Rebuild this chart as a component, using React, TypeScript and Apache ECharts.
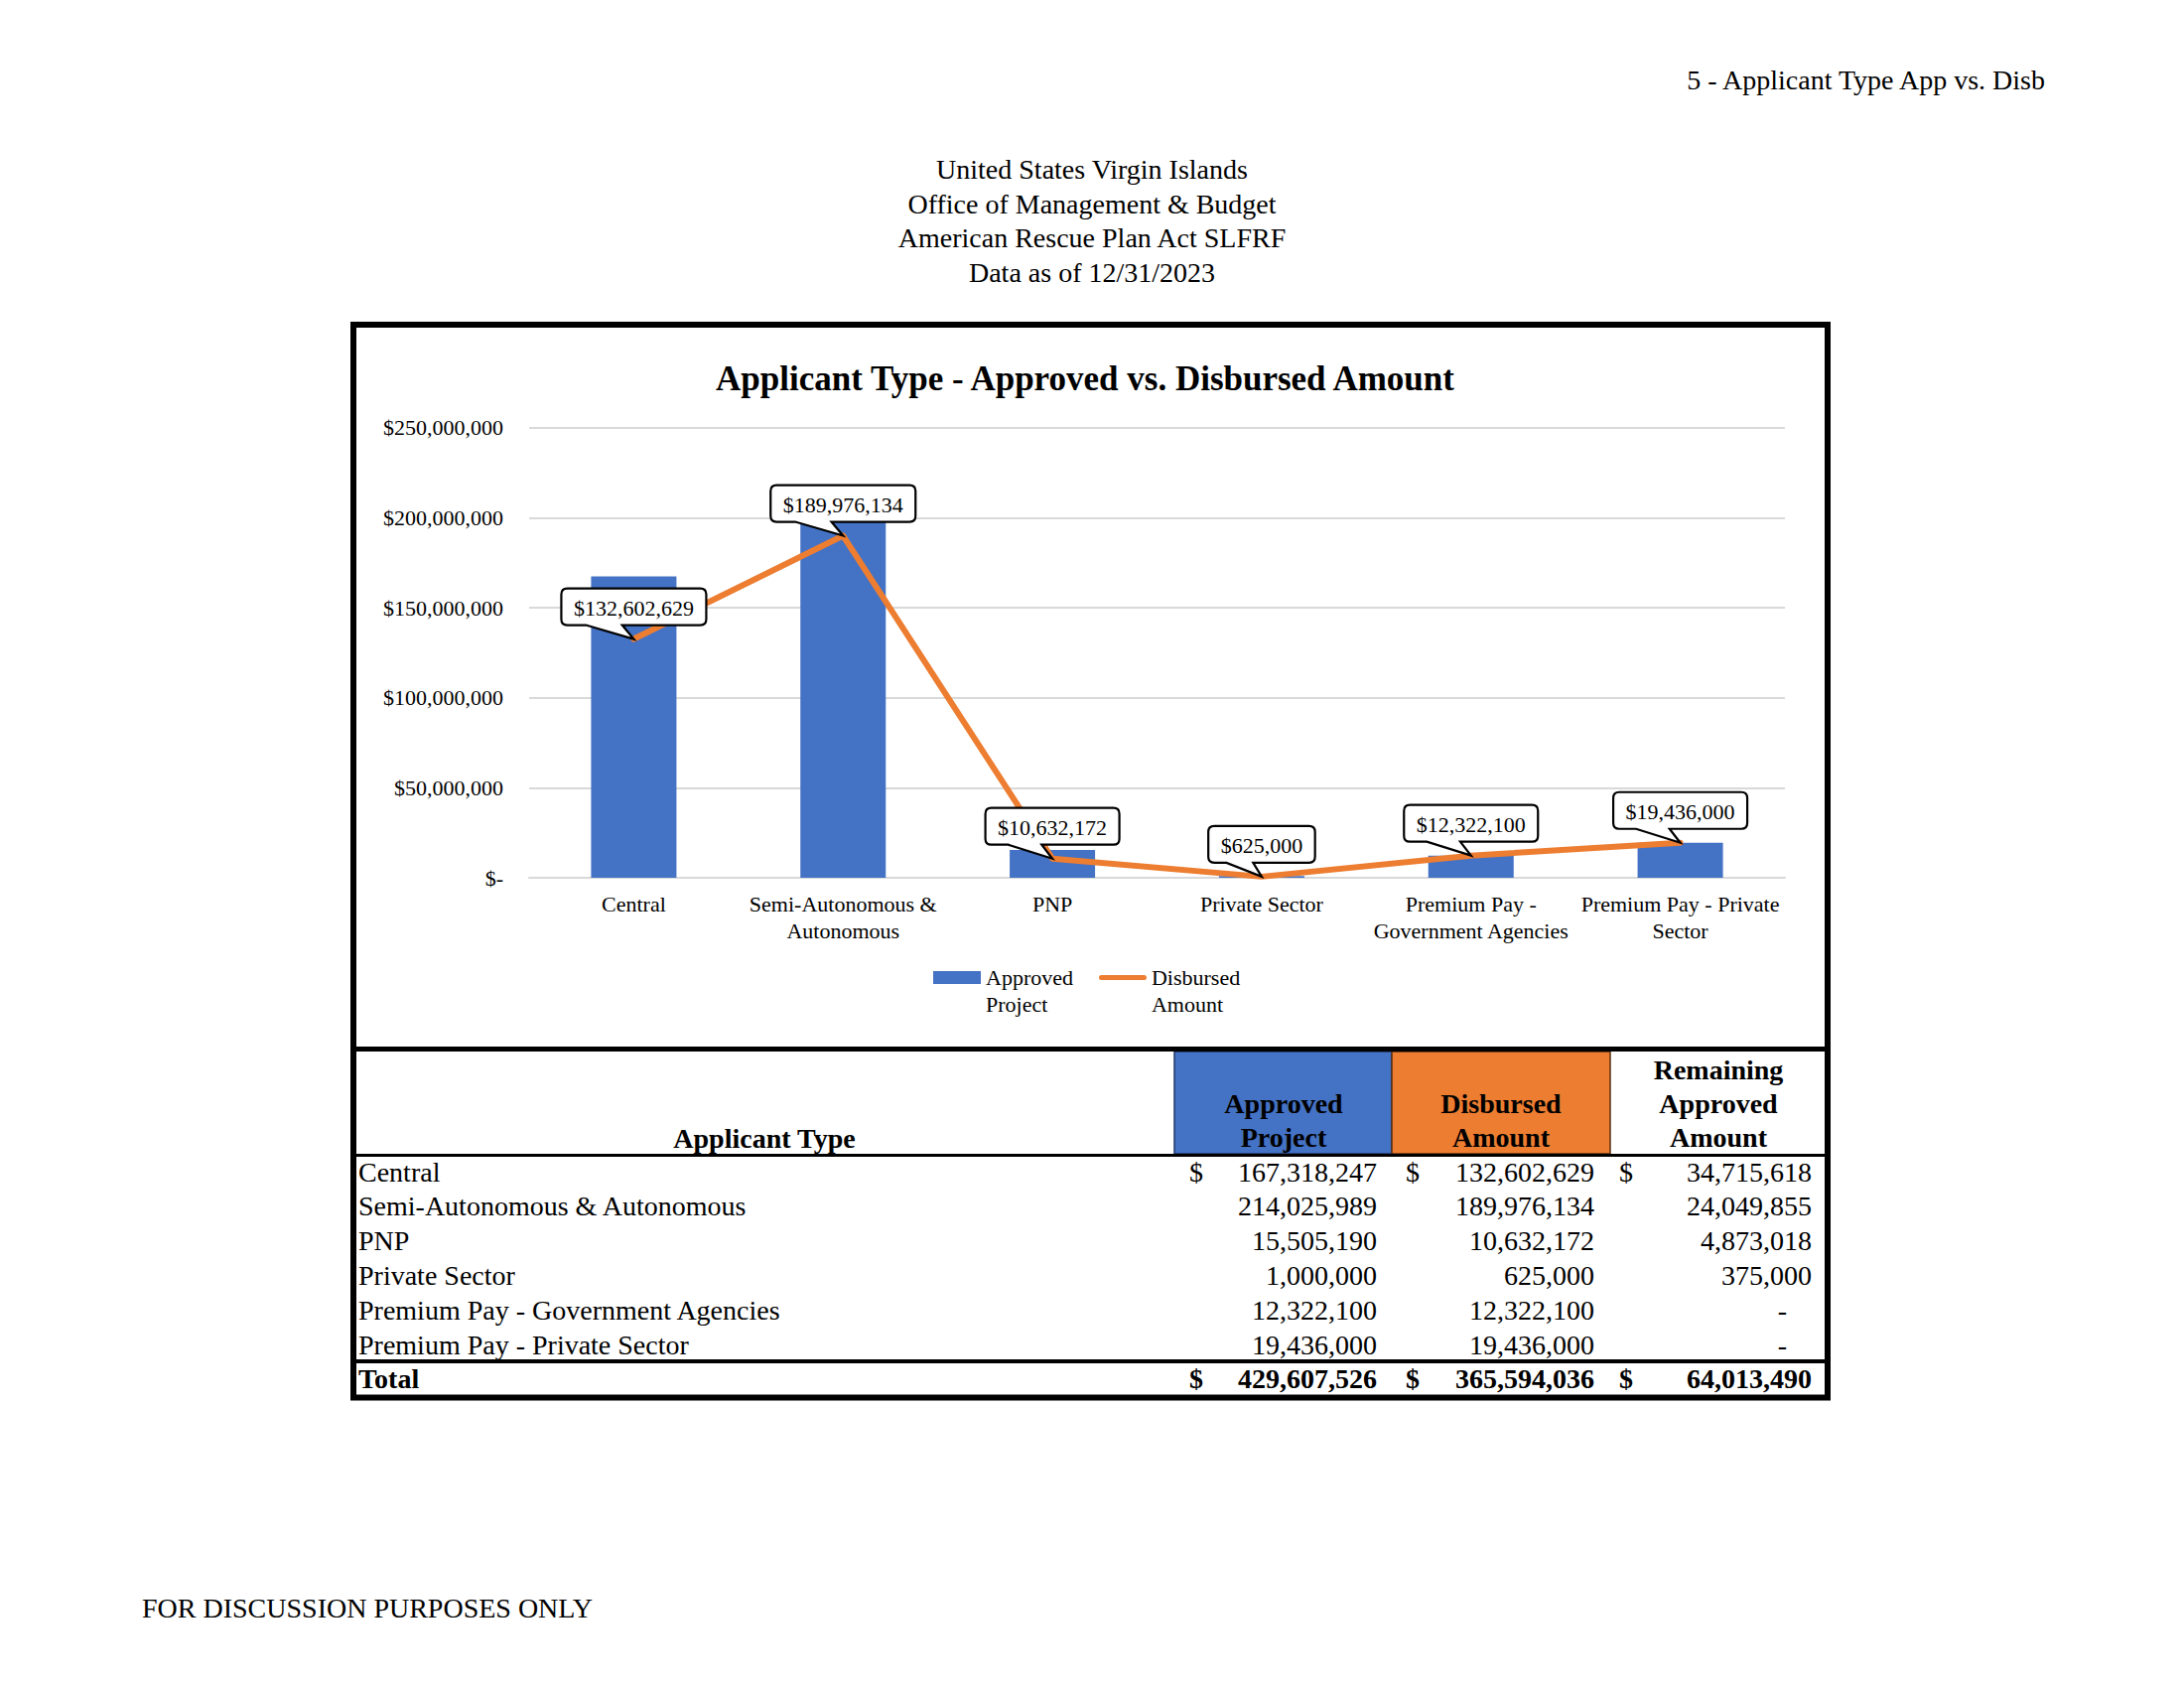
import React, { useEffect, useRef } from "react";
import * as echarts from "echarts";

const FONT = '"Liberation Serif", "Times New Roman", serif';

const axisCategories = [
  "Central",
  "Semi-Autonomous &\nAutonomous",
  "PNP",
  "Private Sector",
  "Premium Pay -\nGovernment Agencies",
  "Premium Pay - Private\nSector",
];
const tableNames = [
  "Central",
  "Semi-Autonomous & Autonomous",
  "PNP",
  "Private Sector",
  "Premium Pay - Government Agencies",
  "Premium Pay - Private Sector",
];
const approved = [167318247, 214025989, 15505190, 1000000, 12322100, 19436000];
const disbursed = [132602629, 189976134, 10632172, 625000, 12322100, 19436000];
const remaining = [34715618, 24049855, 4873018, 375000, 0, 0];
const totals = [429607526, 365594036, 64013490];
const seriesNames = ["Approved Project", "Disbursed Amount"];
const headerLines = [
  "United States Virgin Islands",
  "Office of Management & Budget",
  "American Rescue Plan Act SLFRF",
  "Data as of 12/31/2023",
];
const chartTitle = "Applicant Type - Approved vs. Disbursed Amount";
const pageTag = "5 - Applicant Type App vs. Disb";
const footer = "FOR DISCUSSION PURPOSES ONLY";
const yMin = 0;
const yMax = 250000000;
const yInterval = 50000000;

const BLUE = "#4472C4";
const ORANGE = "#ED7D31";

const fmt = (v: number) => v.toLocaleString("en-US");

let measureCtx: CanvasRenderingContext2D | null = null;
function measure(text: string, font: string) {
  if (!measureCtx) measureCtx = document.createElement("canvas").getContext("2d");
  if (!measureCtx) return text.length * 11;
  measureCtx.font = font;
  return measureCtx.measureText(text).width;
}

const Callout = (echarts as any).graphic.extendShape({
  shape: { cx: 0, top: 0, w: 0, h: 0, r: 6, b1: 0, b2: 0, tx: 0, ty: 0 },
  buildPath(ctx: any, s: any) {
    const l = s.cx - s.w / 2;
    const rg = s.cx + s.w / 2;
    const t = s.top;
    const b = s.top + s.h;
    const r = s.r;
    ctx.moveTo(l + r, t);
    ctx.lineTo(rg - r, t);
    ctx.quadraticCurveTo(rg, t, rg, t + r);
    ctx.lineTo(rg, b - r);
    ctx.quadraticCurveTo(rg, b, rg - r, b);
    ctx.lineTo(s.cx + s.b2, b);
    ctx.lineTo(s.tx, s.ty);
    ctx.lineTo(s.cx + s.b1, b);
    ctx.lineTo(l + r, b);
    ctx.quadraticCurveTo(l, b, l, b - r);
    ctx.lineTo(l, t + r);
    ctx.quadraticCurveTo(l, t, l + r, t);
    ctx.closePath();
  },
});
(echarts as any).graphic.registerShape("callout", Callout);

// legend icons: bar = full rect, line = thick band centred in a 48x13 box
const barIcon = "rect";
const lineIcon =
  "path://M0,0 L0.01,0 L0,0.01 Z M2.5,4 L45.5,4 A2.5,2.5 0 0 1 45.5,9 L2.5,9 A2.5,2.5 0 0 1 2.5,4 Z M47.99,13 L48,13 L48,12.99 Z";

function txt(
  text: string,
  x: number,
  y: number,
  opts: { size?: number; bold?: boolean; align?: string; fill?: string } = {}
) {
  const align = opts.align || "left";
  return {
    type: "text",
    x,
    y,
    z: 10,
    style: {
      text,
      fill: opts.fill || "#000",
      fontSize: opts.size || 28,
      fontFamily: FONT,
      fontWeight: opts.bold ? "bold" : "normal",
      align,
      textAlign: align,
      verticalAlign: "middle",
      textVerticalAlign: "middle",
    },
  };
}

function buildGraphics() {
  const g: any[] = [];
  g.push(txt(pageTag, 2060, 80, { align: "right" }));
  const hy = [170, 205, 239, 274];
  headerLines.forEach((l, i) => g.push(txt(l, 1100, hy[i], { align: "center" })));
  g.push(txt(footer, 143, 1619));

  g.push({ type: "rect", shape: { x: 1183, y: 1059, width: 219, height: 103 }, style: { fill: BLUE, stroke: "#1f3763", lineWidth: 1.5 }, z: 1 });
  g.push({ type: "rect", shape: { x: 1402, y: 1059, width: 220, height: 103 }, style: { fill: ORANGE, stroke: "#5a2e0f", lineWidth: 1.5 }, z: 1 });

  g.push({ type: "rect", shape: { x: 356, y: 327, width: 1485, height: 1080.5 }, style: { fill: "none", stroke: "#000", lineWidth: 6 }, z: 5 });
  g.push({ type: "line", shape: { x1: 356, y1: 1056.5, x2: 1841, y2: 1056.5 }, style: { stroke: "#000", lineWidth: 5 }, z: 5 });
  g.push({ type: "line", shape: { x1: 356, y1: 1163.5, x2: 1841, y2: 1163.5 }, style: { stroke: "#000", lineWidth: 3 }, z: 5 });
  g.push({ type: "line", shape: { x1: 356, y1: 1371, x2: 1841, y2: 1371 }, style: { stroke: "#000", lineWidth: 4 }, z: 5 });

  const l1 = 1077, l2 = 1111, l3 = 1145;
  g.push(txt("Applicant Type", 770, l3 + 1, { bold: true, align: "center" }));
  g.push(txt("Approved", 1293, l2, { bold: true, align: "center" }));
  g.push(txt("Project", 1293, l3, { bold: true, align: "center" }));
  g.push(txt("Disbursed", 1512, l2, { bold: true, align: "center" }));
  g.push(txt("Amount", 1512, l3, { bold: true, align: "center" }));
  g.push(txt("Remaining", 1731, l1, { bold: true, align: "center" }));
  g.push(txt("Approved", 1731, l2, { bold: true, align: "center" }));
  g.push(txt("Amount", 1731, l3, { bold: true, align: "center" }));

  const rowY0 = 1180;
  const rowH = 34.8;
  const dollarX = [1205, 1423, 1638];
  const valueX = [1387, 1606, 1825];
  tableNames.forEach((name, i) => {
    const y = rowY0 + i * rowH;
    g.push(txt(name, 361, y));
    if (i === 0) dollarX.forEach((dx) => g.push(txt("$", dx, y, { align: "center" })));
    g.push(txt(fmt(approved[i]), valueX[0], y, { align: "right" }));
    g.push(txt(fmt(disbursed[i]), valueX[1], y, { align: "right" }));
    g.push(
      remaining[i] === 0
        ? txt("-", 1800, y, { align: "right" })
        : txt(fmt(remaining[i]), valueX[2], y, { align: "right" })
    );
  });
  const ty = 1388.5;
  g.push(txt("Total", 361, ty, { bold: true }));
  dollarX.forEach((dx, k) => {
    g.push(txt("$", dx, ty, { align: "center", bold: true }));
    g.push(txt(fmt(totals[k]), valueX[k], ty, { align: "right", bold: true }));
  });
  return g;
}

export default function App() {
  const ref = useRef<HTMLDivElement>(null);
  useEffect(() => {
    if (!ref.current) return;
    const chart = echarts.init(ref.current, null, { renderer: "svg" });
    const labelFont = `22px ${FONT}`;
    const option: any = {
      animation: false,
      backgroundColor: "#fff",
      textStyle: { fontFamily: FONT, color: "#000" },
      title: {
        text: chartTitle,
        left: 716,
        top: 356,
        textStyle: { fontFamily: FONT, fontSize: 35, fontWeight: "bold", color: "#000", lineHeight: 40 },
      },
      legend: {
        data: [
          { name: seriesNames[0], icon: barIcon },
          { name: seriesNames[1], icon: lineIcon },
        ],
        left: 935,
        top: 939,
        itemWidth: 48,
        itemHeight: 13,
        itemGap: 26,
        formatter: (n: string) => "\n" + n.replace(" ", "\n"),
        textStyle: { fontFamily: FONT, fontSize: 22, lineHeight: 27, color: "#000" },
      },
      grid: { left: 533, right: 402, top: 430.7, bottom: 816, containLabel: false },
      xAxis: {
        type: "category",
        data: axisCategories,
        axisLine: { show: true, lineStyle: { color: "#d9d9d9", width: 2 } },
        axisTick: { show: false },
        axisLabel: { interval: 0, color: "#000", fontSize: 22, lineHeight: 26.7, margin: 13, fontFamily: FONT },
      },
      yAxis: {
        type: "value",
        min: yMin,
        max: yMax,
        interval: yInterval,
        axisLine: { show: false },
        axisTick: { show: false },
        splitLine: { lineStyle: { color: "#d9d9d9", width: 2 } },
        axisLabel: {
          color: "#000",
          fontSize: 22,
          margin: 26,
          fontFamily: FONT,
          formatter: (v: number) => (v === 0 ? "$-" : "$" + fmt(v)),
        },
      },
      graphic: buildGraphics(),
      series: [
        {
          name: seriesNames[0],
          type: "bar",
          data: approved,
          barWidth: 86,
          itemStyle: { color: BLUE },
          z: 2,
        },
        {
          name: seriesNames[1],
          type: "line",
          data: disbursed,
          symbol: "none",
          lineStyle: { color: ORANGE, width: 6, cap: "round", join: "round" },
          itemStyle: { color: ORANGE },
          z: 3,
        },
        {
          name: "callouts",
          type: "custom",
          coordinateSystem: "cartesian2d",
          data: disbursed.map((v, i) => [i, v]),
          z: 4,
          silent: true,
          renderItem: (params: any, api: any) => {
            const i = api.value(0);
            const v = api.value(1);
            const p = api.coord([i, v]);
            const text = "$" + fmt(v);
            const tw = measure(text, labelFont);
            const w = tw + 25;
            const h = 37;
            const top = p[1] - 14 - h;
            return {
              type: "group",
              children: [
                {
                  type: "callout",
                  shape: { cx: p[0], top, w, h, r: 6, b1: -0.33 * w, b2: -0.08 * w, tx: p[0], ty: p[1] },
                  style: { fill: "#fff", stroke: "#000", lineWidth: 2.2 },
                },
                {
                  type: "text",
                  x: p[0],
                  y: top + h / 2 + 1,
                  style: {
                    text,
                    fill: "#000",
                    fontSize: 22,
                    fontFamily: FONT,
                    align: "center",
                    textAlign: "center",
                    verticalAlign: "middle",
                    textVerticalAlign: "middle",
                  },
                },
              ],
            };
          },
        },
      ],
    };
    chart.setOption(option);
    return () => chart.dispose();
  }, []);
  return (
    <div
      ref={ref}
      style={{ position: "absolute", left: 0, top: 0, width: 2200, height: 1700, background: "#fff" }}
    />
  );
}
